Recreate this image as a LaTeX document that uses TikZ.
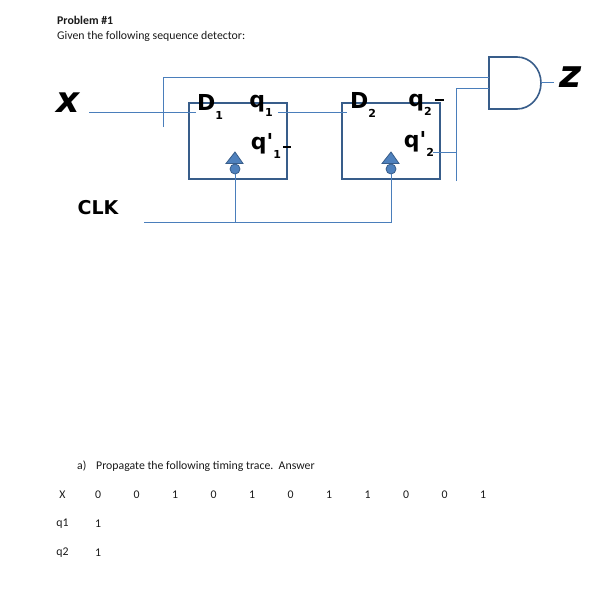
\documentclass[tikz,border=0pt]{standalone}
\usepackage{fontspec}
\setmainfont{Carlito}
\newfontfamily\handfont{DejaVu Sans}
\usetikzlibrary{positioning}
\definecolor{wirecol}{HTML}{4A7EBB}
\definecolor{edgecol}{HTML}{385D8A}
\definecolor{fillcol}{HTML}{4F81BD}
\tikzset{
  wire/.style={wirecol,line width=0.9pt},
  ffbox/.style={draw=edgecol,line width=1.6pt,minimum width=98pt,minimum height=76pt,inner sep=0pt},
  gate/.style={draw=edgecol,line width=1.6pt},
  clkhead/.style={draw=edgecol,fill=fillcol,line width=0.8pt},
  clkdot/.style={circle,draw=edgecol,fill=fillcol,line width=0.8pt,minimum size=10pt,inner sep=0pt},
  printed/.style={font=\fontsize{11.8}{13}\selectfont,text=black!90,inner sep=0pt},
  hand/.style={font=\handfont\bfseries\fontsize{#1}{#1}\selectfont,inner sep=0pt},
  handslant/.style={font=\handfont\bfseries\itshape\fontsize{#1}{#1}\selectfont,inner sep=0pt},
  stroke/.style={black,line width=1.6pt}
}
\newcommand{\lowsub}[1]{\raisebox{-0.4em}{\fontsize{11}{11}\selectfont #1}}

\begin{document}
\begin{tikzpicture}[x=1pt,y=-1pt]
\useasboundingbox (0,0) rectangle (615,613);

\newcommand{\myclock}[3]{% name, x, y of the dot
\draw[clkhead] (#2-9,#3-5.5) -- (#2,#3-17) -- (#2+8,#3-5.5) -- cycle;
\node[clkdot] (#1) at (#2,#3) {};
}

%header
\node[printed,anchor=west,font=\fontsize{11.8}{13}\selectfont\bfseries] (title) at (57,20.5) {Problem \#1};
\node[printed,anchor=west] (given) at (57,36) {Given the following sequence detector:};

%flip flops
\node[ffbox] (ff1) at (238,141) {};
\node[ffbox] (ff2) at (391,141) {};
\myclock{ck1}{235}{169}
\myclock{ck2}{391}{169}

%and gate
\draw[gate] (489,57) -- (517,57) arc[start angle=90,end angle=-90,x radius=24pt,y radius=26pt] -- (489,109) -- cycle;
\coordinate (andtop) at (489,77.5);
\coordinate (andbot) at (489,88);
\coordinate (andout) at (541,82);

%free ends
\coordinate (xin) at (89,112);
\coordinate (d1in) at (196,112);
\coordinate (q1out) at (278,112);
\coordinate (d2in) at (347,112);
\coordinate (fbstart) at (163.5,127);
\coordinate (q2out) at (433,152);
\coordinate (fbtwo) at (456.5,181);
\coordinate (clkin) at (144,222);
\coordinate (zout) at (554,82);

%wires
\draw[wire] (xin) -- (d1in);
\draw[wire] (q1out) -- (d2in);
\draw[wire] (fbstart) -- (fbstart |- andtop) -- (andtop);
\draw[wire] (fbtwo) -- (fbtwo |- andbot) -- (andbot);
\draw[wire] (q2out) -- (q2out -| fbtwo);
\draw[wire] (andout) -- (zout);
\draw[wire] (clkin) -- (clkin -| ck2) -- (ck2.south);
\draw[wire] (clkin -| ck1) -- (ck1.south);

%hand written marks
\coordinate (q1bar) at (283,147);
\coordinate (q1barend) at (291,147);
\coordinate (q2bar) at (435,100);
\coordinate (q2barend) at (444,100);
\draw[stroke] (q1bar) -- (q1barend);
\draw[stroke] (q2bar) -- (q2barend);

%hand written labels
\node[handslant=36] (xlabel) at (68,103) {x};
\node[hand=19] (clklabel) at (98,208) {CLK};
\node[hand=22] (d1label) at (210,107) {D\lowsub{1}};
\node[hand=22] (q1label) at (261,106) {q\lowsub{1}};
\node[hand=22] (qn1label) at (266,146) {q'\lowsub{1}};
\node[hand=22] (d2label) at (363,105) {D\lowsub{2}};
\node[hand=22] (q2label) at (420,105) {q\lowsub{2}};
\node[hand=22] (qn2label) at (419,144) {q'\lowsub{2}};
\node[handslant=38] (zlabel) at (571,77) {z};

%question
\node[printed,anchor=west] (qa) at (77,466) {a)};
\node[printed,anchor=west] (qtext) at (96,466) {Propagate the following timing trace.\ \ Answer};

%trace
\node[printed] (xname) at (62.5,494.5) {X};
\node[printed] (xa) at (98,494.5) {0};
\node[printed] (xb) at (136.5,494.5) {0};
\node[printed] (xc) at (175,494.5) {1};
\node[printed] (xd) at (213.5,494.5) {0};
\node[printed] (xe) at (252,494.5) {1};
\node[printed] (xf) at (290.5,494.5) {0};
\node[printed] (xg) at (329,494.5) {1};
\node[printed] (xh) at (367.5,494.5) {1};
\node[printed] (xi) at (406,494.5) {0};
\node[printed] (xj) at (444.5,494.5) {0};
\node[printed] (xk) at (483,494.5) {1};
\node[printed] (qone) at (62.5,523.5) {q1};
\node[printed] (qonea) at (98,523.5) {1};
\node[printed] (qtwo) at (62.5,552.5) {q2};
\node[printed] (qtwoa) at (98,552.5) {1};

\end{tikzpicture}
\end{document}
